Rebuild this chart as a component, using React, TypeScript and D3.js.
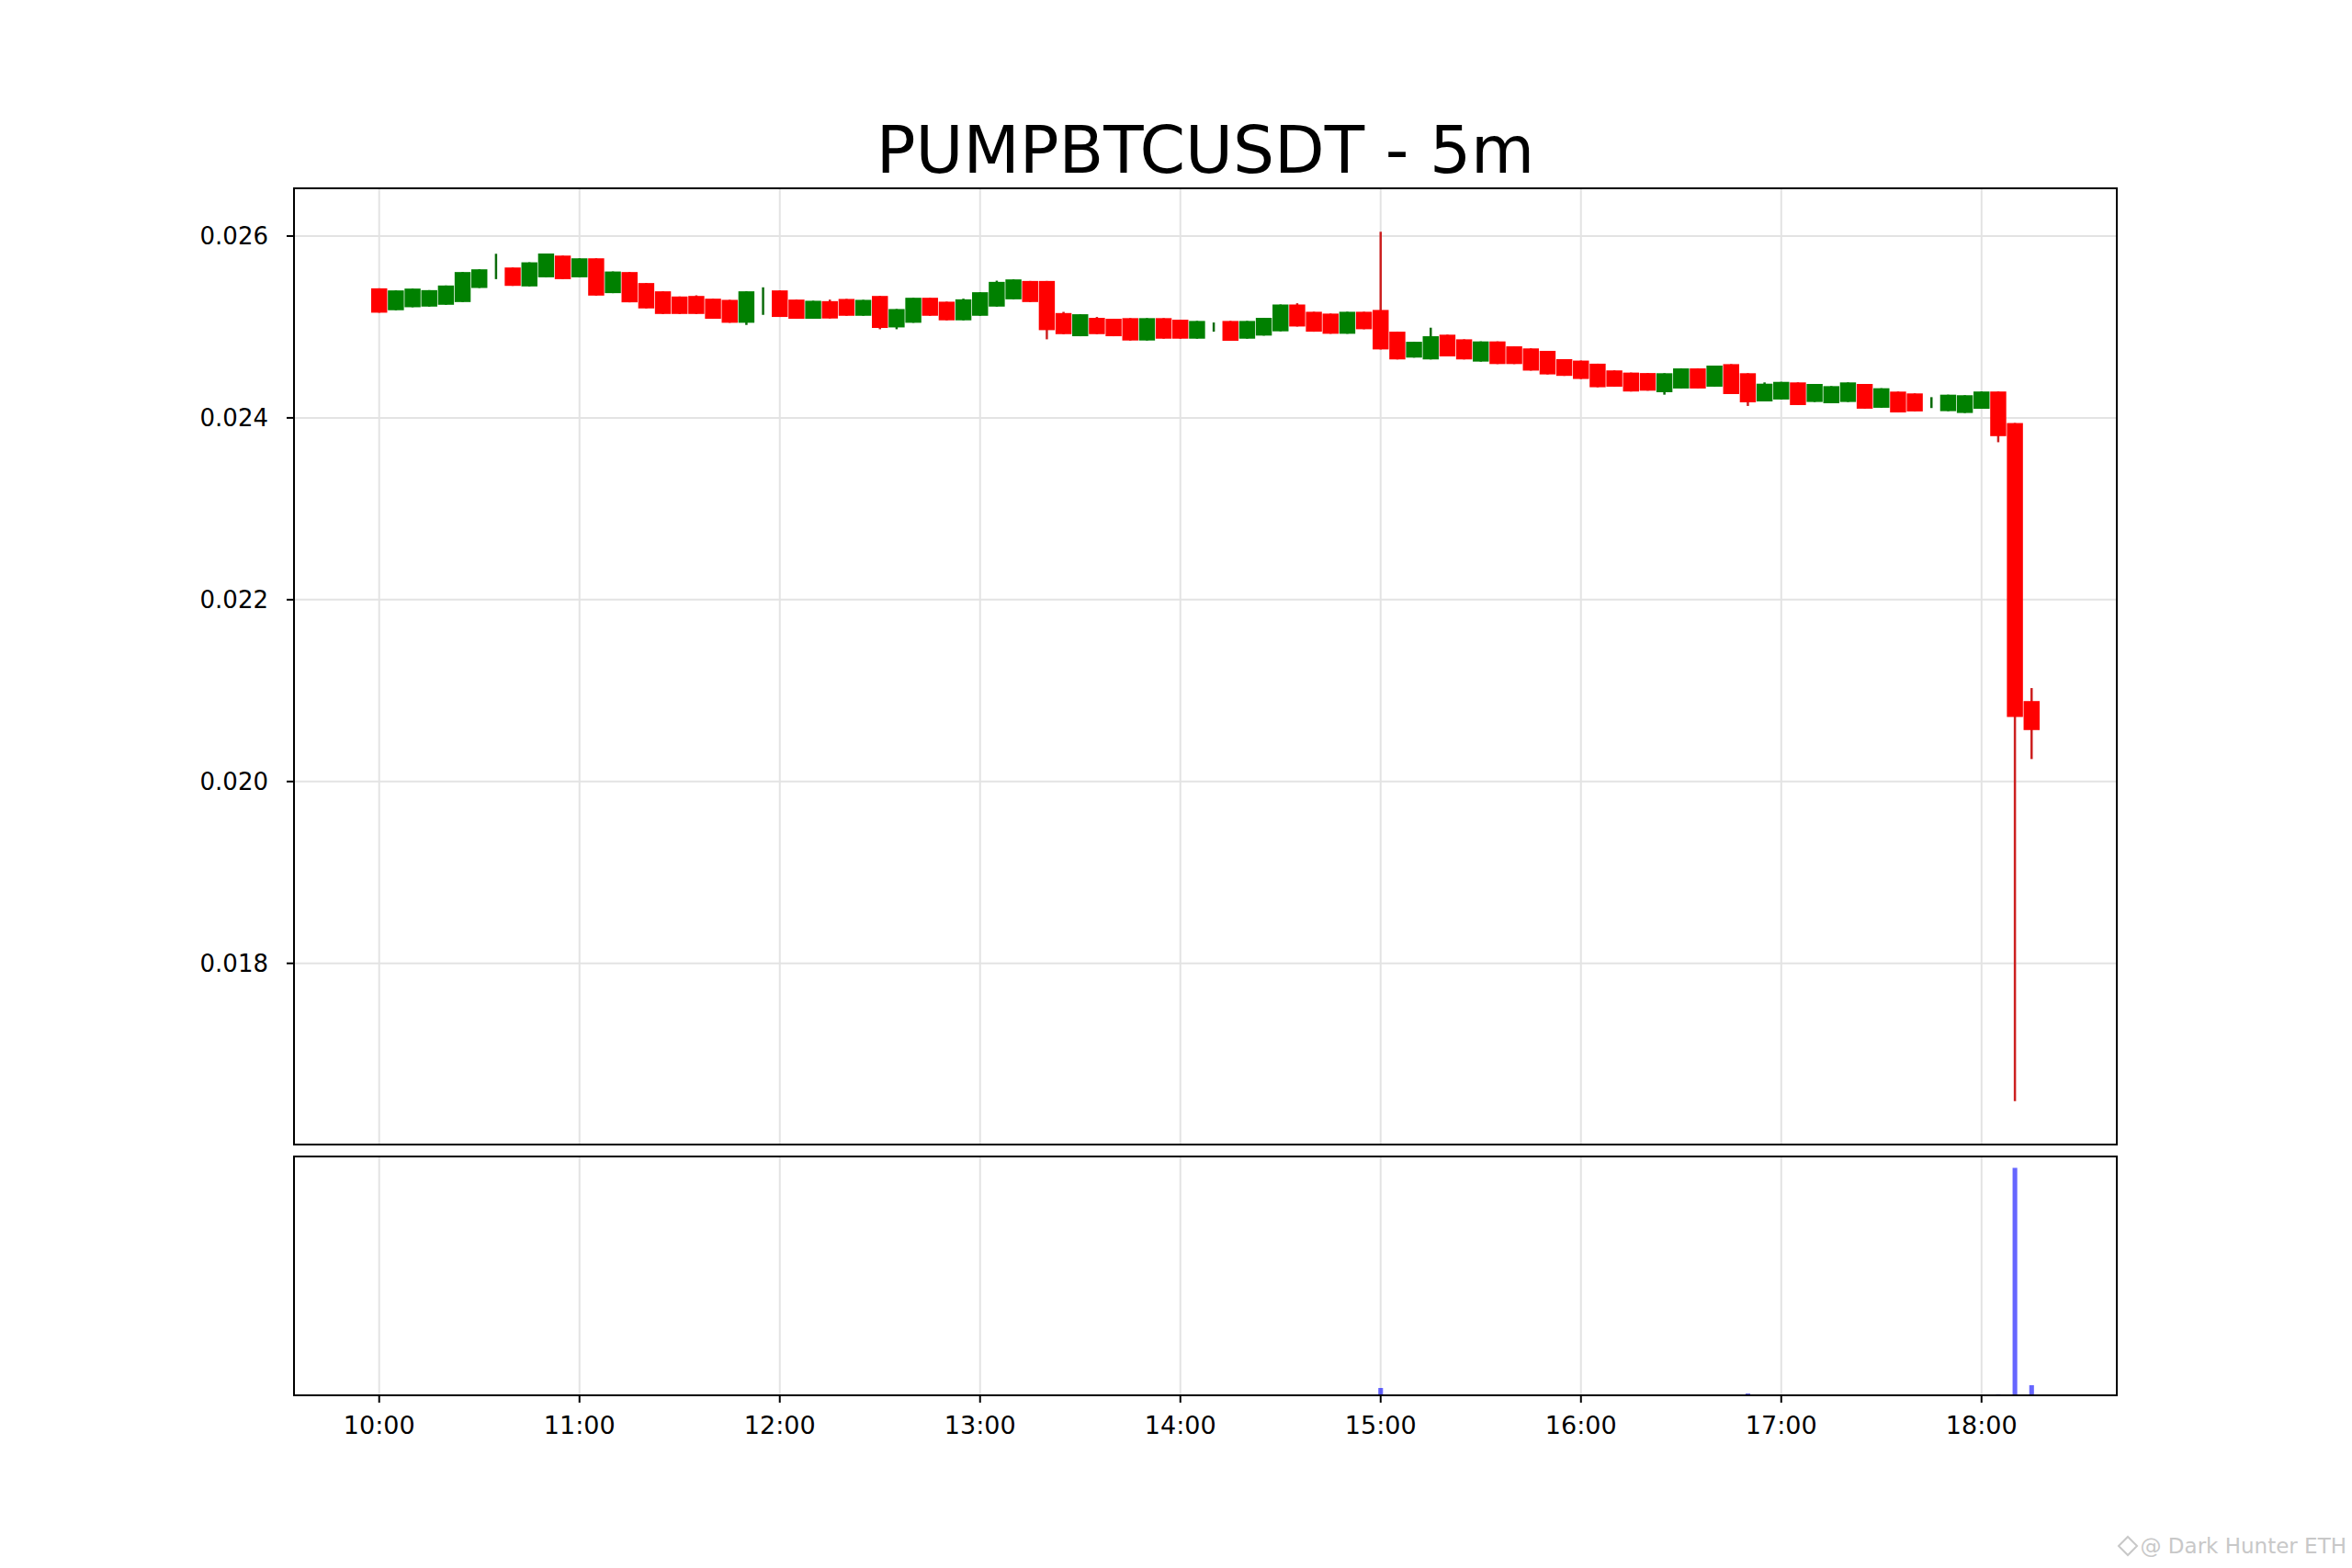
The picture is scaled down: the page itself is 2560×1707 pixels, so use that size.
import { useEffect, useRef } from "react";
import * as d3 from "d3";

const TITLE = "PUMPBTCUSDT - 5m";
const WATERMARK = "@ Dark Hunter ETH";

// 5m bars, 10:00 → 18:15
const TIMES = [
  "10:00", "10:05", "10:10", "10:15", "10:20", "10:25", "10:30", "10:35", "10:40", "10:45", "10:50", "10:55",
  "11:00", "11:05", "11:10", "11:15", "11:20", "11:25", "11:30", "11:35", "11:40", "11:45", "11:50", "11:55",
  "12:00", "12:05", "12:10", "12:15", "12:20", "12:25", "12:30", "12:35", "12:40", "12:45", "12:50", "12:55",
  "13:00", "13:05", "13:10", "13:15", "13:20", "13:25", "13:30", "13:35", "13:40", "13:45", "13:50", "13:55",
  "14:00", "14:05", "14:10", "14:15", "14:20", "14:25", "14:30", "14:35", "14:40", "14:45", "14:50", "14:55",
  "15:00", "15:05", "15:10", "15:15", "15:20", "15:25", "15:30", "15:35", "15:40", "15:45", "15:50", "15:55",
  "16:00", "16:05", "16:10", "16:15", "16:20", "16:25", "16:30", "16:35", "16:40", "16:45", "16:50", "16:55",
  "17:00", "17:05", "17:10", "17:15", "17:20", "17:25", "17:30", "17:35", "17:40", "17:45", "17:50", "17:55",
  "18:00", "18:05", "18:10", "18:15",
];

const OPEN = [
  0.025425, 0.025184, 0.025217, 0.025224, 0.025244, 0.025274, 0.025429, 0.02566, 0.025654, 0.025446, 0.025546, 0.025785,
  0.025546, 0.025755, 0.025372, 0.025604, 0.025483, 0.025392, 0.025335, 0.025341, 0.025311, 0.025298, 0.025046, 0.02529,
  0.025402, 0.025301, 0.02509, 0.025284, 0.025308, 0.025123, 0.025341, 0.024995, 0.025046, 0.025321, 0.025278, 0.025073,
  0.025123, 0.025224, 0.025304, 0.025506, 0.025506, 0.025153, 0.024898, 0.0251, 0.02509, 0.025097, 0.024851, 0.025097,
  0.02508, 0.024871, 0.025, 0.025066, 0.024871, 0.024905, 0.024952, 0.025247, 0.025167, 0.025147, 0.024925, 0.025167,
  0.025187, 0.024948, 0.024663, 0.024643, 0.024915, 0.024864, 0.024619, 0.024841, 0.024787, 0.024764, 0.024737, 0.024646,
  0.02463, 0.024596, 0.024522, 0.024498, 0.024493, 0.024282, 0.024323, 0.024544, 0.024343, 0.024591, 0.024491, 0.024181,
  0.024202, 0.02439, 0.024175, 0.024161, 0.024175, 0.024373, 0.024111, 0.024289, 0.024269, 0.024168, 0.024074, 0.024054,
  0.0241, 0.02429, 0.023943, 0.020885,
];

const HIGH = [
  0.025425, 0.025402, 0.025422, 0.025405, 0.025456, 0.025604, 0.025634, 0.025805, 0.025654, 0.025711, 0.025808, 0.025785,
  0.025755, 0.025755, 0.02561, 0.025604, 0.025483, 0.025392, 0.025335, 0.025348, 0.025311, 0.025298, 0.025392, 0.025436,
  0.025402, 0.025301, 0.025288, 0.025301, 0.025308, 0.025298, 0.025341, 0.025197, 0.025321, 0.025321, 0.025278, 0.025311,
  0.025382, 0.025509, 0.025523, 0.025506, 0.025506, 0.025166, 0.02514, 0.02511, 0.02509, 0.025097, 0.025097, 0.025097,
  0.02508, 0.025066, 0.025049, 0.025066, 0.025066, 0.0251, 0.025247, 0.025261, 0.025167, 0.025147, 0.025167, 0.025167,
  0.026047, 0.024948, 0.024837, 0.024992, 0.024915, 0.024864, 0.024841, 0.024841, 0.024787, 0.024764, 0.024737, 0.024646,
  0.02463, 0.024596, 0.024522, 0.024498, 0.024493, 0.024491, 0.024544, 0.024544, 0.024575, 0.024591, 0.024491, 0.02439,
  0.024396, 0.02439, 0.024373, 0.024349, 0.02439, 0.024373, 0.024326, 0.024289, 0.024269, 0.024228, 0.024255, 0.024249,
  0.02429, 0.02429, 0.023943, 0.021028,
];

const LOW = [
  0.025157, 0.025184, 0.025217, 0.025224, 0.025244, 0.025274, 0.025429, 0.025526, 0.025452, 0.025446, 0.025546, 0.025526,
  0.025546, 0.025345, 0.025372, 0.025271, 0.025204, 0.025143, 0.025143, 0.025143, 0.02509, 0.025046, 0.025022, 0.025133,
  0.02511, 0.02509, 0.02509, 0.025093, 0.025123, 0.025123, 0.024975, 0.024975, 0.025046, 0.025123, 0.025073, 0.025073,
  0.025123, 0.025224, 0.025304, 0.025274, 0.024864, 0.024921, 0.024898, 0.024921, 0.024898, 0.024851, 0.024851, 0.024871,
  0.024871, 0.024871, 0.024948, 0.024848, 0.024871, 0.024905, 0.024952, 0.025005, 0.024948, 0.024925, 0.024925, 0.024975,
  0.024753, 0.024643, 0.024663, 0.024643, 0.024676, 0.024643, 0.024619, 0.024592, 0.024592, 0.02452, 0.024478, 0.024462,
  0.024428, 0.024337, 0.024343, 0.02429, 0.024299, 0.024255, 0.024323, 0.024323, 0.024343, 0.024262, 0.024131, 0.024181,
  0.024202, 0.024141, 0.024175, 0.024161, 0.024175, 0.024101, 0.024111, 0.02406, 0.024071, 0.024108, 0.024074, 0.024054,
  0.0241, 0.023732, 0.016485, 0.020247,
];

const CLOSE = [
  0.025157, 0.025402, 0.025422, 0.025405, 0.025456, 0.025604, 0.025634, 0.02566, 0.025452, 0.025711, 0.025808, 0.025526,
  0.025755, 0.025345, 0.02561, 0.025271, 0.025204, 0.025143, 0.025143, 0.025143, 0.02509, 0.025046, 0.025392, 0.02529,
  0.02511, 0.02509, 0.025288, 0.025093, 0.025123, 0.025298, 0.024989, 0.025197, 0.025321, 0.025123, 0.025073, 0.025304,
  0.025382, 0.025496, 0.025523, 0.025274, 0.024965, 0.024921, 0.02514, 0.024921, 0.024898, 0.024851, 0.025097, 0.024871,
  0.024871, 0.025066, 0.025, 0.024848, 0.025066, 0.0251, 0.025247, 0.025005, 0.024948, 0.024925, 0.025167, 0.024975,
  0.024753, 0.024643, 0.024837, 0.024898, 0.024676, 0.024643, 0.024841, 0.024592, 0.024592, 0.02452, 0.024478, 0.024462,
  0.024428, 0.024337, 0.024343, 0.02429, 0.024299, 0.024491, 0.024544, 0.024323, 0.024575, 0.024262, 0.024171, 0.024376,
  0.024396, 0.024141, 0.024373, 0.024349, 0.02439, 0.024101, 0.024326, 0.02406, 0.024071, 0.024168, 0.024255, 0.024249,
  0.02429, 0.023799, 0.02071, 0.020566,
];

const VOLUME = [
  2, 1, 2, 1, 2, 3, 2, 1, 2, 2, 3, 2,
  2, 8, 2, 3, 2, 1, 1, 2, 2, 2, 3, 1,
  2, 1, 1, 2, 1, 1, 3, 2, 2, 1, 2, 2,
  3, 3, 2, 2, 8, 3, 2, 1, 2, 2, 1, 2,
  2, 1, 1, 2, 1, 1, 3, 2, 2, 2, 2, 2,
  80, 4, 2, 3, 2, 2, 2, 2, 1, 2, 2, 2,
  2, 2, 1, 2, 1, 2, 2, 2, 3, 3, 20, 2,
  2, 2, 1, 1, 2, 2, 1, 2, 1, 1, 2, 2,
  3, 12, 2480, 110,
];

const X_TICKS = ["10:00", "11:00", "12:00", "13:00", "14:00", "15:00", "16:00", "17:00", "18:00"];
const Y_TICKS = [0.018, 0.02, 0.022, 0.024, 0.026];

const WIDTH = 2560;
const HEIGHT = 1707;
const BAR_MIN = 5; // candle interval, minutes
const VOL_BAR_MIN = 1.4; // volume bar width, minutes

const toMin = (t: string) => +t.slice(0, 2) * 60 + +t.slice(3, 5);

const App = () => {
  const svgRef = useRef<SVGSVGElement | null>(null);

  useEffect(() => {
    if (!svgRef.current) return;
    const svg = d3.select(svgRef.current);
    svg.selectAll("*").remove();

    const left = 320;
    const right = 2304;
    const mainTop = 205;
    const mainBottom = 1246;
    const volTop = 1259;
    const volBottom = 1519;
    const font = "DejaVu Sans, sans-serif";

    const bars = TIMES.map((t, i) => ({
      t: toMin(t),
      o: OPEN[i],
      h: HIGH[i],
      l: LOW[i],
      c: CLOSE[i],
      v: VOLUME[i],
    }));

    // autoscale like matplotlib: data extent (incl. volume bar width) + 5% margins
    const tExt = d3.extent(bars, (d) => d.t) as [number, number];
    const t0 = tExt[0] - VOL_BAR_MIN / 2;
    const t1 = tExt[1] + VOL_BAR_MIN / 2;
    const tPad = (t1 - t0) * 0.05;
    const x = d3
      .scaleLinear()
      .domain([t0 - tPad, t1 + tPad])
      .range([left, right]);

    const lo = d3.min(LOW)!;
    const hi = d3.max(HIGH)!;
    const yPad = (hi - lo) * 0.05;
    const y = d3
      .scaleLinear()
      .domain([lo - yPad, hi + yPad])
      .range([mainBottom, mainTop]);

    const vMax = d3.max(VOLUME)!;
    const yv = d3
      .scaleLinear()
      .domain([0, vMax * 1.05])
      .range([volBottom, volTop]);

    const step = x(BAR_MIN) - x(0);
    const bodyW = step * 0.96;
    const volW = x(VOL_BAR_MIN) - x(0);

    svg.append("rect").attr("width", WIDTH).attr("height", HEIGHT).attr("fill", "#ffffff");

    // grid
    const grid = svg.append("g").attr("stroke", "#e3e3e3").attr("stroke-width", 2);
    X_TICKS.forEach((t) => {
      const gx = x(toMin(t));
      grid.append("line").attr("x1", gx).attr("x2", gx).attr("y1", mainTop).attr("y2", mainBottom);
      grid.append("line").attr("x1", gx).attr("x2", gx).attr("y1", volTop).attr("y2", volBottom);
    });
    Y_TICKS.forEach((v) => {
      grid.append("line").attr("x1", left).attr("x2", right).attr("y1", y(v)).attr("y2", y(v));
    });

    // candles: wick first, body on top
    const candles = svg.append("g");
    candles
      .selectAll("line")
      .data(bars)
      .join("line")
      .attr("x1", (d) => x(d.t))
      .attr("x2", (d) => x(d.t))
      .attr("y1", (d) => y(d.h))
      .attr("y2", (d) => y(d.l))
      .attr("stroke", (d) => (d.c >= d.o ? "#0b6b0b" : "#cc2020"))
      .attr("stroke-width", 2.5);

    candles
      .selectAll("rect")
      .data(bars.filter((d) => d.o !== d.c))
      .join("rect")
      .attr("x", (d) => x(d.t) - bodyW / 2)
      .attr("width", bodyW)
      .attr("y", (d) => y(Math.max(d.o, d.c)))
      .attr("height", (d) => Math.abs(y(d.o) - y(d.c)))
      .attr("fill", (d) => (d.c >= d.o ? "#008000" : "#ff0000"));

    // volume
    svg
      .append("g")
      .selectAll("rect")
      .data(bars)
      .join("rect")
      .attr("x", (d) => x(d.t) - volW / 2)
      .attr("width", volW)
      .attr("y", (d) => yv(d.v))
      .attr("height", (d) => volBottom - yv(d.v))
      .attr("fill", "#0000ff")
      .attr("fill-opacity", 0.6);

    // spines
    const spines = svg.append("g").attr("fill", "none").attr("stroke", "#000").attr("stroke-width", 2);
    spines.append("rect").attr("x", left).attr("y", mainTop).attr("width", right - left).attr("height", mainBottom - mainTop);
    spines.append("rect").attr("x", left).attr("y", volTop).attr("width", right - left).attr("height", volBottom - volTop);

    // ticks
    const ticks = svg.append("g").attr("stroke", "#000").attr("stroke-width", 2);
    X_TICKS.forEach((t) => {
      const gx = x(toMin(t));
      ticks.append("line").attr("x1", gx).attr("x2", gx).attr("y1", volBottom).attr("y2", volBottom + 8);
    });
    Y_TICKS.forEach((v) => {
      ticks.append("line").attr("x1", left - 8).attr("x2", left).attr("y1", y(v)).attr("y2", y(v));
    });

    const fmt = d3.format(".3f");
    svg
      .append("g")
      .selectAll("text")
      .data(Y_TICKS)
      .join("text")
      .attr("x", 292)
      .attr("y", (v) => y(v) + 9.5)
      .attr("text-anchor", "end")
      .attr("font-family", font)
      .attr("font-size", 26)
      .attr("fill", "#000")
      .text((v) => fmt(v));

    svg
      .append("g")
      .selectAll("text")
      .data(X_TICKS)
      .join("text")
      .attr("x", (t) => x(toMin(t)))
      .attr("y", 1561)
      .attr("text-anchor", "middle")
      .attr("font-family", font)
      .attr("font-size", 27)
      .attr("fill", "#000")
      .text((t) => t);

    svg
      .append("text")
      .attr("x", (left + right) / 2)
      .attr("y", 188)
      .attr("text-anchor", "middle")
      .attr("font-family", font)
      .attr("font-size", 71)
      .attr("fill", "#000")
      .text(TITLE);

    // watermark
    const wm = svg.append("g").attr("fill", "#c8c8c8");
    wm.append("path")
      .attr("d", "M2316,1673 l10,10 l-10,10 l-10,-10 z")
      .attr("fill", "none")
      .attr("stroke", "#c8c8c8")
      .attr("stroke-width", 2);
    wm.append("text")
      .attr("x", 2554)
      .attr("y", 1691)
      .attr("text-anchor", "end")
      .attr("font-family", font)
      .attr("font-size", 23)
      .text(WATERMARK);
  }, []);

  return (
    <div style={{ position: "absolute", left: 0, top: 0 }}>
      <svg ref={svgRef} width={WIDTH} height={HEIGHT} style={{ display: "block" }} />
    </div>
  );
};

export default App;
